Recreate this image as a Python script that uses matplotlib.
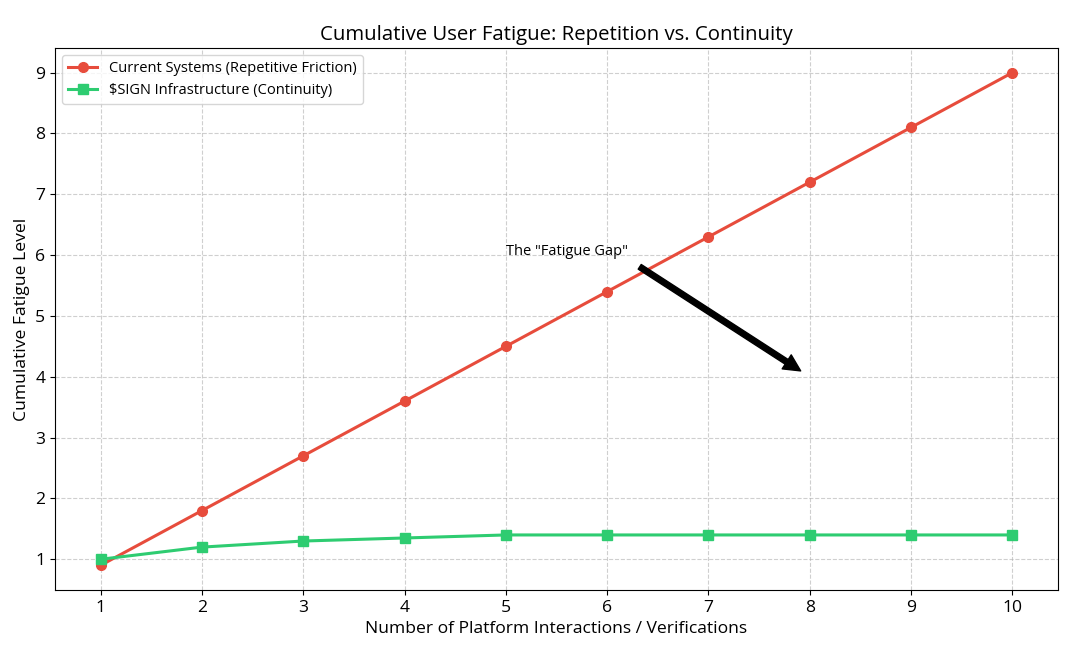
import matplotlib
matplotlib.use("Agg")
import matplotlib.pyplot as plt

interactions = [1, 2, 3, 4, 5, 6, 7, 8, 9, 10]
current_systems = [0.9, 1.8, 2.7, 3.6, 4.5, 5.4, 6.3, 7.2, 8.1, 9.0]
sign_infra = [1.0, 1.2, 1.3, 1.35, 1.4, 1.4, 1.4, 1.4, 1.4, 1.4]

plt.rcParams['font.family'] = ['Open Sans', 'DejaVu Sans']

fig = plt.figure(figsize=(10.7, 6.49), dpi=100)
ax = fig.add_axes([55/1070, 1 - 590/649, (1058-55)/1070, (590-48)/649])

ax.plot(interactions, current_systems, color='#e74c3c', marker='o', linewidth=2.2,
        markersize=7, label='Current Systems (Repetitive Friction)')
ax.plot(interactions, sign_infra, color='#2ecc71', marker='s', linewidth=2.2,
        markersize=7, label='$SIGN Infrastructure (Continuity)')

ax.annotate('The "Fatigue Gap"', xy=(8, 4.0), xytext=(5, 6.0),
            arrowprops=dict(facecolor='black', shrink=0.05), fontsize=10.5)

ax.set_title('Cumulative User Fatigue: Repetition vs. Continuity', fontsize=14.7)
ax.set_xlabel('Number of Platform Interactions / Verifications', fontsize=12.6)
ax.set_ylabel('Cumulative Fatigue Level', fontsize=12.6)
ax.set_xticks(interactions)
ax.tick_params(labelsize=12.6)
ax.grid(True, linestyle='--', alpha=0.6)
ax.legend(loc='upper left', fontsize=10.5)

fig.savefig('out.png', dpi=100)
